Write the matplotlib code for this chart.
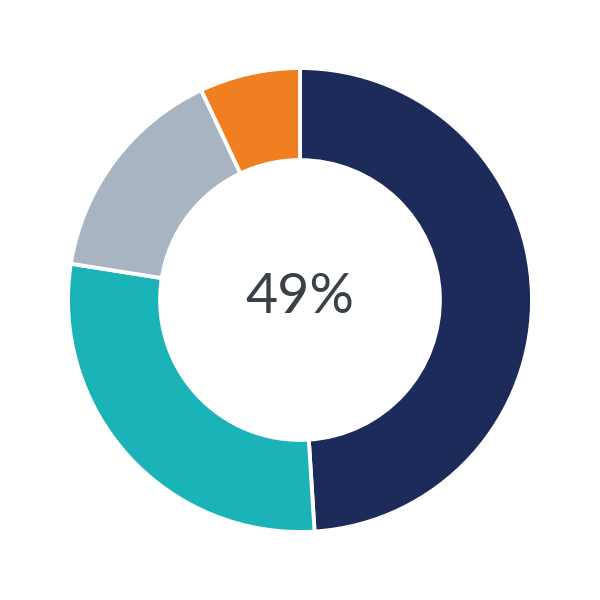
import matplotlib.pyplot as plt

# --- Data ---
labels = ["Segment A", "Segment B", "Segment C", "Segment D"]
values = [49, 28.5, 15.5, 7]
colors = ["#1c2b5a", "#1ab3b8", "#a9b4c3", "#f07f22"]
center_text = "49%"

# --- Plot ---
fig = plt.figure(figsize=(6, 6), dpi=100)
ax = fig.add_axes([0, 0, 1, 1])
ax.pie(values, colors=colors, startangle=90, counterclock=False,
       radius=1.0, wedgeprops=dict(width=0.397, edgecolor="white", linewidth=2.8))
ax.text(0, 0.01, center_text, ha="center", va="center", fontsize=40,
        family="Lato", fontweight="normal", color="#3a4047")
lim = 300 / 232
ax.set_xlim(-lim, lim)
ax.set_ylim(-lim, lim)
ax.set_aspect("equal")
ax.axis("off")
fig.savefig("out.png", dpi=100, facecolor="white")
